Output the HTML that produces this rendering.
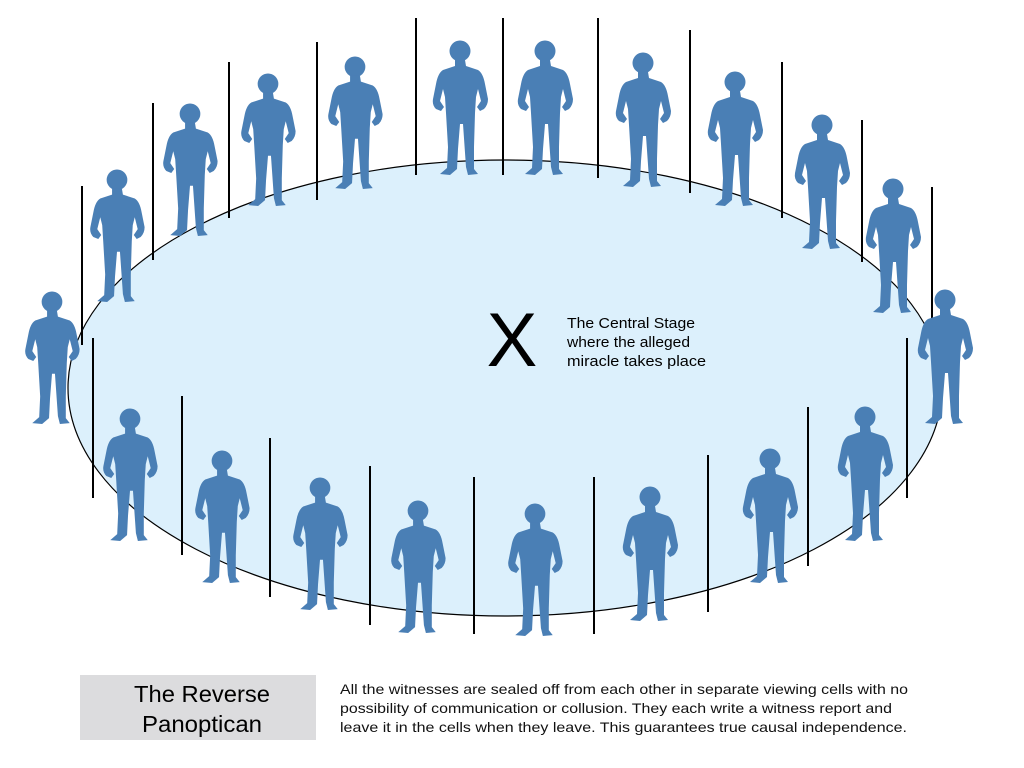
<!DOCTYPE html>
<html><head><meta charset="utf-8"><style>
body{margin:0;background:#fff;width:1024px;height:768px;overflow:hidden;font-family:"Liberation Sans",sans-serif}
</style></head><body>
<svg width="1024" height="768" viewBox="0 0 1024 768" style="position:absolute;left:0;top:0">
<defs>
<symbol id="p" viewBox="0 0 60 140">
<circle cx="30" cy="12" r="10.5" fill="#4a7fb5"/>
<path fill="#4a7fb5" d="M25 21 L35 21 L36 27 L48 31 Q53 34 55 45 L58 60 Q58 66 54 70 L50 72 L47 68 L51 62 L48 50 L46 58 L45 74 L44 108 L44 130 L48 135 L38 136 L36 128 L33 85 L30 85 L28 110 L27 130 L20 136 L10 135 L17 129 L18 108 L16 74 L15 58 L13 50 L10 62 L14 68 L11 72 L6 70 Q2 66 3 60 L6 45 Q8 34 13 31 L25 27 Z"/>
</symbol>
</defs>
<ellipse cx="505" cy="388" rx="437" ry="228" fill="#dcf0fc" stroke="#000" stroke-width="1.2"/>
<g stroke="#000" stroke-width="2">
<line x1="416" y1="18" x2="416" y2="175"/><line x1="503" y1="18" x2="503" y2="175"/><line x1="598" y1="18" x2="598" y2="178"/><line x1="690" y1="30" x2="690" y2="193"/><line x1="782" y1="62" x2="782" y2="218"/><line x1="862" y1="120" x2="862" y2="262"/><line x1="932" y1="187" x2="932" y2="345"/>
<line x1="317" y1="42" x2="317" y2="200"/><line x1="229" y1="62" x2="229" y2="218"/><line x1="153" y1="103" x2="153" y2="260"/><line x1="82" y1="186" x2="82" y2="345"/>
<line x1="93" y1="338" x2="93" y2="498"/><line x1="182" y1="396" x2="182" y2="555"/><line x1="270" y1="438" x2="270" y2="597"/><line x1="370" y1="466" x2="370" y2="625"/><line x1="474" y1="477" x2="474" y2="634"/><line x1="594" y1="477" x2="594" y2="634"/><line x1="708" y1="455" x2="708" y2="612"/><line x1="808" y1="407" x2="808" y2="566"/><line x1="907" y1="338" x2="907" y2="498"/>
</g>
<g>
<use href="#p" x="430" y="39" width="60" height="140"/>
<use href="#p" x="515" y="39" width="60" height="140"/>
<use href="#p" x="613" y="51" width="60" height="140"/>
<use href="#p" x="705" y="70" width="60" height="140"/>
<use href="#p" x="792" y="113" width="60" height="140"/>
<use href="#p" x="863" y="177" width="60" height="140"/>
<use href="#p" x="915" y="288" width="60" height="140"/>
<use href="#p" x="325" y="55" width="60" height="138"/>
<use href="#p" x="238" y="72" width="60" height="138"/>
<use href="#p" x="160" y="102" width="60" height="138"/>
<use href="#p" x="87" y="168" width="60" height="138"/>
<use href="#p" x="22" y="290" width="60" height="138"/>
<use href="#p" x="100" y="407" width="60" height="138"/>
<use href="#p" x="192" y="449" width="60" height="138"/>
<use href="#p" x="290" y="476" width="60" height="138"/>
<use href="#p" x="388" y="499" width="60" height="138"/>
<use href="#p" x="505" y="502" width="60" height="138"/>
<use href="#p" x="620" y="485" width="60" height="140"/>
<use href="#p" x="740" y="447" width="60" height="140"/>
<use href="#p" x="835" y="405" width="60" height="140"/>
</g>
<text x="512" y="366" font-size="76" text-anchor="middle" fill="#000">X</text>
<g font-size="15" fill="#000">
<text x="567" y="328" textLength="128" lengthAdjust="spacingAndGlyphs">The Central Stage</text>
<text x="567" y="347" textLength="123" lengthAdjust="spacingAndGlyphs">where the alleged</text>
<text x="567" y="366" textLength="139" lengthAdjust="spacingAndGlyphs">miracle takes place</text>
</g>
<rect x="80" y="675" width="236" height="65" fill="#dcdcde"/>
<g font-size="23" fill="#000">
<text x="134" y="702" textLength="136" lengthAdjust="spacingAndGlyphs">The Reverse</text>
<text x="142" y="732" textLength="120" lengthAdjust="spacingAndGlyphs">Panoptican</text>
</g>
<g font-size="14" fill="#111">
<text x="340" y="694" textLength="568" lengthAdjust="spacingAndGlyphs">All the witnesses are sealed off from each other in separate viewing cells with no</text>
<text x="340" y="713" textLength="552" lengthAdjust="spacingAndGlyphs">possibility of communication or collusion. They each write a witness report and</text>
<text x="340" y="732" textLength="567" lengthAdjust="spacingAndGlyphs">leave it in the cells when they leave. This guarantees true causal independence.</text>
</g>
</svg>
</body></html>
